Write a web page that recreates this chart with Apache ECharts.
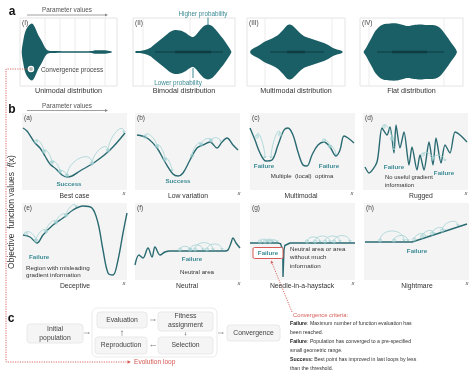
<!DOCTYPE html>
<html><head><meta charset="utf-8">
<script src="https://cdn.jsdelivr.net/npm/echarts@6/dist/echarts.min.js"></script>
<style>html,body{margin:0;padding:0;background:#fff}#c{width:474px;height:374px}</style>
</head><body><div id="c"></div>
<script>
// ---------- DATA ----------
// Panel a: violin outlines [parameter value, half density width]
var violinI   = [[1.7,0],[2,4],[3,10],[5,19.5],[8,25.5],[12,28.5],[15,24.5],[18,17.5],[22,10.5],[25,4.5],[28,1.5],[35,1],[50,0.8],[65,0.8],[72,1],[75,1.8],[80,1.8],[85,1.8],[88,1.2],[91,0.8],[92,0]];
var violinII  = [[2,0],[3,1],[7,1],[12,2],[17,4],[22,8],[27,12],[32,16],[37,20],[42,22],[47,21.5],[52,19.5],[57,16],[60,15],[63,17],[67,22],[71,26],[75,27.5],[79,26],[83,22],[87,17],[91,12],[95,6],[97,3],[98.5,0]];
var violinIII = [[3,0],[4,2],[7,4],[11,6],[18,10.5],[25,13.5],[31,17],[36,22],[40,26.5],[43,27.5],[46,26],[50,22],[54,18],[59,15],[65,13],[71,11],[77,9],[82,6.5],[86,4],[90,2.5],[94,1.5],[96,0]];
var violinIV  = [[3.5,0],[4,1],[6,4],[9,9.5],[12,15],[15,20.5],[19,25],[23,27.5],[30,28.5],[37,28.5],[43,27],[48,26],[54,27],[60,27.5],[67,27],[73,27],[78,25.5],[82,22],[85,18],[88,14],[91,9.5],[94,5.5],[96,2.5],[97,0]];
// inner box [whisker low, q1, q3, whisker high]
var boxII  = [22,42,78,90];
var boxIII = [23,40,58,77];
var boxIV  = [17,32,67,84];
// grid line positions
var gridI = [25,40,55,70,85], gridII = [10,57], gridIII = [18,85], gridIV = [9,84];
var violinTitles = ['Unimodal distribution','Bimodal distribution','Multimodal distribution','Flat distribution'];
var violinTags = ['(I)','(II)','(III)','(IV)'];

// Panel b: objective functions [x, f(x)]
var curveA = [[1,62],[5,59],[9,53],[13,47],[18,42],[23,34],[28,26],[34,21],[40,15],[45,13],[50,14],[58,19],[73,28],[88,40],[103,57]];
var curveB = [[2,55],[12,52],[22,42],[30,28],[38,16],[43,14],[48,17],[55,30],[62,42],[68,45],[75,48],[82,42],[87,48],[92,52],[98,45],[103,40]];
var curveC = [[0,62],[5,50],[10,37],[16,29],[22,30],[28,45],[34,60],[38,62],[43,55],[48,38],[53,25],[57,24],[62,35],[68,45],[74,48],[80,43],[86,34],[90,40],[94,54],[98,52],[104,47]];
var curveD = [[2,23],[6,17],[14,28],[19,62],[24,55],[27,63],[31,37],[33,65],[37,42],[41,58],[46,25],[49,43],[54,20],[57,35],[61,20],[66,48],[70,25],[73,52],[78,27],[82,45],[87,37],[92,58],[97,55],[104,48]];
var curveE = [[1,45],[8,43],[15,37],[21,45],[31,55],[41,62],[51,70],[61,74],[70,72],[76,57],[81,30],[86,7],[91,5],[96,20],[101,47],[105,67]];
var curveF = [[0,15],[4,25],[8,22],[13,32],[17,23],[20,33],[25,25],[30,28],[35,29],[50,29],[70,29],[90,29],[93,30],[96,37],[98,42],[101,37],[105,32]];
var curveG = [[0,37],[28,37],[30.5,36.4],[32,34.5],[32.8,30],[33,3],[33.8,3],[34,30],[34.8,34.5],[36.5,36.4],[40,37],[105,37]];
var curveH = [[1,38],[48,38],[103,56]];
// search hops [x from, f from, x to, f to]
var hopsA = [[14,47,22,37],[22,37,30,26],[30,26,38,17],[38,17,45,13],[45,13,70,25],[70,25,86,38],[86,38,102,56]];
var hopsB = [[10,52,22,42],[22,42,30,29],[30,29,37,18],[57,33,66,44],[66,44,76,48],[76,48,86,47]];
var hopsC = [[7,52,15,31],[30,54,21,31],[74,48,80,42],[80,42,86,34]];
var hopsD = [[21,62,29,50],[29,50,31,39],[60,34,70,30],[70,30,82,28]];
var hopsE = [[4,45,14,38],[14,38,24,47],[24,47,34,56],[34,56,44,63],[44,63,54,72]];
var hopsF = [[45,29,55,29],[55,29,68,29],[60,29,78,29],[72,29,87,29]];
var hopsG = [[10,37,18,37],[15,37,23,37],[20,37,27,37],[57,37,70,37],[65,37,80,37],[75,37,90,37],[84,37,100,37]];
var hopsH = [[16,38,40,38],[30,38,44,38],[50,39,62,42],[58,42,70,45],[68,45,80,48],[78,48,94,53]];
var funcTitles = ['Best case','Low variation','Multimodal','Rugged','Deceptive','Neutral','Needle-in-a-haystack','Nightmare'];
var funcTags = ['(a)','(b)','(c)','(d)','(e)','(f)','(g)','(h)'];

// ---------- STYLE / LAYOUT ----------
var FF = "'Liberation Sans', Arial, sans-serif";
var TEAL = '#1b5f66', LINE = '#2a6b72', HOP = '#a3d2d3', LBL = '#3a8a93', RED = '#d65a55', TXT = '#333';
var vBoxes = [{l:20,w:97},{l:133,w:102},{l:247,w:98},{l:360,w:103}];
var vTop = 18, vH = 68;
var fLefts = [22,135,250,363,22,135,250,364], fTops = [113,113,113,113,203,203,203,203], fW = 105, fH = 77;

var violins = [violinI, violinII, violinIII, violinIV];
var vBoxData = [null, boxII, boxIII, boxIV];
var vGrid = [gridI, gridII, gridIII, gridIV];
var curves = [curveA,curveB,curveC,curveD,curveE,curveF,curveG,curveH];
var hops = [hopsA,hopsB,hopsC,hopsD,hopsE,hopsF,hopsG,hopsH];
var smooths = [0.35,0.35,0.35,0.25,0.35,0.35,0,0];

var grids=[], xAxes=[], yAxes=[], series=[];
vBoxes.forEach(function(b,i){
  grids.push({left:b.l, top:vTop, width:b.w, height:vH, show:true, backgroundColor:'#fff', borderColor:'#e4e4e4', borderWidth:1});
  xAxes.push({type:'value', gridIndex:i, min:0, max:b.w, show:false});
  yAxes.push({type:'value', gridIndex:i, min:-vH/2, max:vH/2, show:false});
  series.push({type:'custom', xAxisIndex:i, yAxisIndex:i, data:vGrid[i].map(function(v){return [v,0];}), silent:true, z:1,
    renderItem:function(p, api){
      var a = api.coord([api.value(0), -vH/2]), c = api.coord([api.value(0), vH/2]);
      return {type:'line', shape:{x1:a[0],y1:a[1],x2:c[0],y2:c[1]}, style:{stroke:'#ececec', lineWidth:1}};
    }});
  var arr = violins[i];
  series.push({type:'custom', xAxisIndex:i, yAxisIndex:i, data:[[0,0]], silent:true, z:2,
    renderItem:function(p, api){
      var pts=[];
      for(var k=0;k<arr.length;k++) pts.push(api.coord([arr[k][0], arr[k][1]]));
      for(var k=arr.length-1;k>=0;k--) pts.push(api.coord([arr[k][0], -arr[k][1]]));
      return {type:'polygon', shape:{points:pts, smooth:0.3}, style:{fill:TEAL}};
    }});
  var bx = vBoxData[i];
  if(bx){
    series.push({type:'line', xAxisIndex:i, yAxisIndex:i, data:[[bx[0],0],[bx[3],0]], showSymbol:false, silent:true, z:3, lineStyle:{color:'#0d3d41', width:1}});
    series.push({type:'line', xAxisIndex:i, yAxisIndex:i, data:[[bx[1],0],[bx[2],0]], showSymbol:false, silent:true, z:3, lineStyle:{color:'#0d3d41', width:2.6}});
  }
});

function hopRender(p, api){
  var p1 = api.coord([api.value(0), api.value(1)]);
  var p2 = api.coord([api.value(2), api.value(3)]);
  var dx=p2[0]-p1[0], dy=p2[1]-p1[1], d=Math.sqrt(dx*dx+dy*dy);
  var k = d*0.6;
  var c1=[p1[0], p1[1]-k], c2=[p2[0], p2[1]-k];
  var s=2;
  return {type:'group', children:[
    {type:'bezierCurve', shape:{x1:p1[0],y1:p1[1]-1,x2:p2[0],y2:p2[1]-1,cpx1:c1[0],cpy1:c1[1],cpx2:c2[0],cpy2:c2[1]}, style:{stroke:HOP, fill:null, lineWidth:0.8}},
    {type:'polyline', shape:{points:[[p2[0]-s*0.7,p2[1]-1-s],[p2[0],p2[1]-1],[p2[0]+s*0.7,p2[1]-1-s]]}, style:{stroke:HOP, fill:null, lineWidth:0.8}},
    {type:'circle', shape:{cx:p1[0],cy:p1[1]-1.5,r:1.6}, style:{stroke:HOP, fill:null, lineWidth:0.8}}
  ]};
}

curves.forEach(function(cv,j){
  var gi = 4+j;
  grids.push({left:fLefts[j], top:fTops[j], width:fW, height:fH, show:true, backgroundColor:'#f4f4f4', borderColor:'#f0f0f0', borderWidth:0});
  xAxes.push({type:'value', gridIndex:gi, min:0, max:fW, show:false});
  yAxes.push({type:'value', gridIndex:gi, min:0, max:fH, show:false});
  series.push({type:'custom', xAxisIndex:gi, yAxisIndex:gi, data:hops[j], renderItem:hopRender, silent:true, z:4, clip:false});
  series.push({type:'line', xAxisIndex:gi, yAxisIndex:gi, data:cv, smooth:smooths[j], showSymbol:false, silent:true, z:3, lineStyle:{color:LINE, width:1.4}});
});

// ---------- GRAPHIC TEXT / DIAGRAM ----------
var G = [];
function T(t,x,y,o){o=o||{}; G.push({type:'text', x:x, y:y, rotation:o.rot||0, silent:true, z:100,
  style:{text:t, font:(o.st||'normal')+' '+(o.w||'normal')+' '+(o.s||7)+'px '+FF, fill:o.c||TXT, align:o.a||'center', verticalAlign:'middle', rich:o.rich}});}
function L(pts,c,w,dash){G.push({type:'polyline', silent:true, z:99, shape:{points:pts}, style:{stroke:c, lineWidth:w||0.8, lineDash:dash||null, fill:null}});}
function A(x1,y1,x2,y2,c,s,w,dash){var dx=x2-x1,dy=y2-y1,l=Math.sqrt(dx*dx+dy*dy),ux=dx/l,uy=dy/l; s=s||2.5;
  L([[x1,y1],[x2-ux*s*0.6,y2-uy*s*0.6]],c,w,dash);
  G.push({type:'polygon', silent:true, z:99, shape:{points:[[x2,y2],[x2-ux*s-uy*s*0.5,y2-uy*s+ux*s*0.5],[x2-ux*s+uy*s*0.5,y2-uy*s-ux*s*0.5]]}, style:{fill:c}});}
function R(x,y,w,h,fill,stroke,r){G.push({type:'rect', silent:true, z:98, shape:{x:x,y:y,width:w,height:h,r:r||3}, style:{fill:fill, stroke:stroke, lineWidth:1}});}

// panel letters
T('a',12,12,{w:'bold',s:12,c:'#111'}); T('b',12,110,{w:'bold',s:12,c:'#111'}); T('c',11,319,{w:'bold',s:12,c:'#111'});
// parameter values arrows
T('Parameter values',67,10.5,{s:6.4,c:'#555'}); A(27,15,108,15,'#888',3,0.8);
T('Parameter values',67,106.5,{s:6.4,c:'#555'}); A(27,110.5,108,110.5,'#888',3,0.8);
// violin tags/titles
vBoxes.forEach(function(b,i){ T(violinTags[i], b.l+2, 23.5, {a:'left', s:6.5, c:'#444'}); T(violinTitles[i], b.l+b.w/2, 91.5, {s:7.2}); });
T('Higher probability',203,14,{s:6.3,c:LBL}); L([[208,17.5],[208,25]],LBL,1);
T('Lower probability',178,83,{s:6.3,c:LBL}); L([[193,68],[193,78]],LBL,1);
// convergence process marker
G.push({type:'circle', silent:true, z:101, shape:{cx:31,cy:69,r:2.6}, style:{fill:'#bbb', stroke:'#fff', lineWidth:1.2}});
T('Convergence process',41,70,{a:'left', s:6.4, c:'#444'});
// evolution loop dotted path
L([[28,69],[6,69],[6,362],[128,362]],RED,0.9,[1.2,1.2]);
G.push({type:'polygon', silent:true, z:99, shape:{points:[[131,362],[127.5,360.3],[127.5,363.7]]}, style:{fill:RED}});
T('Evolution loop',134,362,{a:'left', s:6.6, c:RED});
// y label
T('{n|Objective  function values  }{i|f}{n|(x)}',12,212,{rot:Math.PI/2, s:8.5, rich:{n:{fontSize:8.5,fontFamily:FF,fill:TXT},i:{fontSize:8.5,fontFamily:FF,fontStyle:'italic',fill:TXT}}});
// function tags / titles / x
var titleX = [74.5,188,301,421,75,187,302,417];
var xLblX = [124,239,352,466,124,239,353,467];
fLefts.forEach(function(l,j){
  T(funcTags[j], l+2, fTops[j]+5.5, {a:'left', s:6.5, c:'#444'});
  T(funcTitles[j], titleX[j], fTops[j]+fH+6.5, {s:6.8});
  T('x', xLblX[j], fTops[j]+fH+3, {st:'italic', s:6, c:'#444'});
});
// annotations
var bold = {w:'bold', s:6.2, c:LBL};
T('Success',69,184,bold); T('Success',178,181,bold);
T('Failure',264,166,bold); T('Failure',329,166,bold); T('Multiple  (local)  optima',302,176,{s:6.1});
T('Failure',394,167,bold); T('Failure',444,173,bold);
T('No useful gradient',385,177,{a:'left', s:5.9}); T('information',385,185,{a:'left', s:5.9});
T('Failure',29,257,{w:'bold', s:6.2, c:LBL, a:'left'});
T('Region with misleading',26,268,{a:'left', s:6.2}); T('gradient information',26,275.5,{a:'left', s:6.2});
T('Failure',192,259,bold); T('Neutral area',197,272,{s:6.2});
R(253,247.5,30,11,'#fff',RED,1.5); T('Failure',268,253,bold);
T('Neutral area or area',290,249,{a:'left', s:6.2}); T('without much',290,257.5,{a:'left', s:6.2}); T('information',290,266,{a:'left', s:6.2});
T('Failure',417,251,bold);
// convergence criteria
A(292,312,271,260.5,RED,3,0.9,[1.2,1.2]);
T('Convergence criteria:',293,315,{a:'left', s:5.8, c:RED});
var rb = {b:{fontWeight:'bold',fontSize:5.2,fontFamily:FF,fill:'#222'}, n:{fontSize:5.2,fontFamily:FF,fill:'#333'}};
var crit = ['{b|Failure}{n|: Maximum number of function evaluation has}','{n|been reached.}','{b|Failure}{n|: Population has converged to a pre-specified}','{n|small geometric range.}','{b|Success:}{n| Best point has improved in last loops by less}','{n|than the threshold.}'];
crit.forEach(function(t,i){ T(t,290,324+i*9,{a:'left', s:5.2, rich:rb}); });
// flowchart
var BF='#f5f5f5', BS='#e9e9e9', FC='#444';
R(27,324,56,19,BF,BS,3); T('Initial',55,329,{s:6.8,c:FC}); T('population',55,338,{s:6.8,c:FC});
A(84,333,90,333,'#999',2,0.7);
R(92,308,125,49,'#fff','#ebebeb',5);
R(97,312,50,16,BF,BS,3); T('Evaluation',122,320,{s:6.8,c:FC});
R(158,312,55,19,BF,BS,3); T('Fitness',185.5,316.5,{s:6.8,c:FC}); T('assignment',185.5,325,{s:6.8,c:FC});
R(95,337,52,17,BF,BS,3); T('Reproduction',121,345.5,{s:6.8,c:FC});
R(158,337,55,17,BF,BS,3); T('Selection',185.5,345.5,{s:6.8,c:FC});
A(150,320,156,320,'#999',2,0.7); A(185.5,332,185.5,336,'#999',2,0.7);
A(156,345.5,150,345.5,'#999',2,0.7); A(122,336,122,330,'#999',2,0.7);
A(218,333,224,333,'#999',2,0.7);
R(227,325,53,16,BF,BS,3); T('Convergence',253.5,333,{s:6.8,c:FC});

var chart = echarts.init(document.getElementById('c'), null, {renderer:'canvas'});
chart.setOption({animation:false, backgroundColor:'#fff', grid:grids, xAxis:xAxes, yAxis:yAxes, series:series, graphic:{elements:G}});
</script></body></html>
